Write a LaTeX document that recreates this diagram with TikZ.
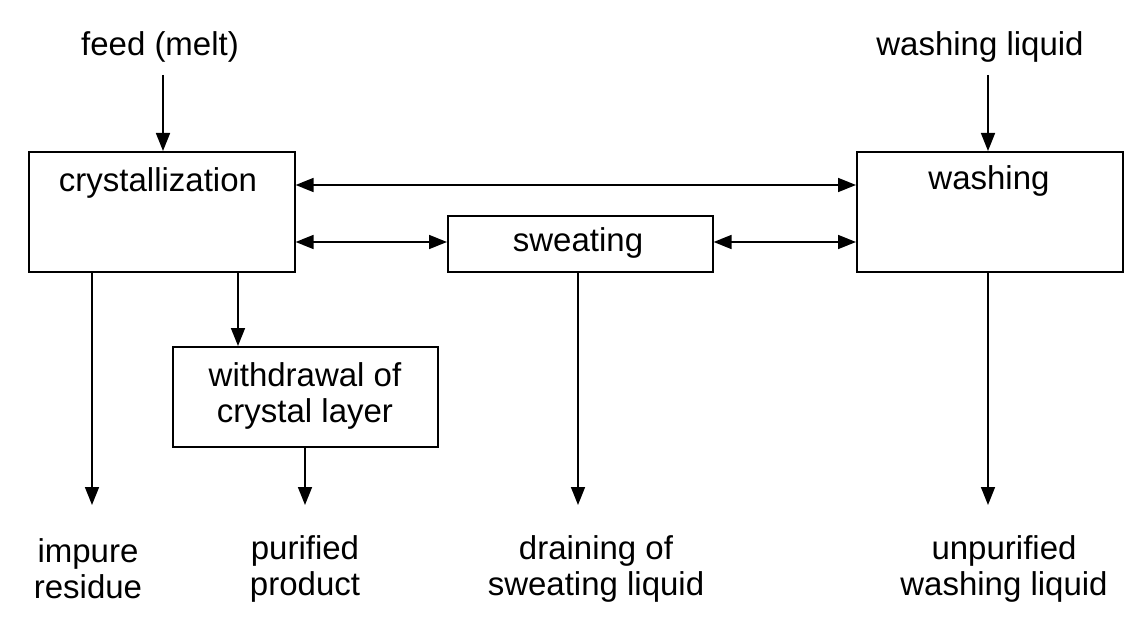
\documentclass[tikz,border=0pt]{standalone}
\usepackage{fontspec}
\setmainfont{Liberation Sans}
\usetikzlibrary{arrows.meta}
\begin{document}
\begin{tikzpicture}[x=1pt,y=-1pt,
  box/.style={draw,line width=1.6pt,inner sep=0pt,anchor=north west},
  lab/.style={font=\fontsize{33}{36}\selectfont,align=center,inner sep=0pt},
  arr/.style={line width=1.6pt,-{Triangle[length=18pt,width=14pt]}},
  darr/.style={line width=1.6pt,{Triangle[length=18pt,width=14pt]}-{Triangle[length=18pt,width=14pt]}}]
\useasboundingbox (0,0) rectangle (1134,617);
\node[box,minimum width=266pt,minimum height=120pt] (cr) at (28,151) {};
\node[box,minimum width=265pt,minimum height=56pt] (sw) at (447,215) {};
\node[box,minimum width=266pt,minimum height=120pt] (wa) at (856,151) {};
\node[box,minimum width=265pt,minimum height=100pt] (wi) at (172,346) {};
\node[lab] (crt) at (158,183) {crystallization};
\node[lab] (swt) at (578,243) {sweating};
\node[lab] (wat) at (989,181) {washing};
\node[lab] (wit) at (305,396) {withdrawal of\\crystal layer};
\node[lab] (feed) at (160,47) {feed (melt)};
\node[lab] (wl) at (980,47) {washing liquid};
\node[lab] (ir) at (88,569) {impure\\residue};
\node[lab] (pp) at (305,569) {purified\\product};
\node[lab] (dr) at (596,569) {draining of\\sweating liquid};
\node[lab] (uw) at (1004,569) {unpurified\\washing liquid};
\coordinate (a1) at (163,75); \coordinate (a2) at (988,75);
\draw[arr] (a1) -- (a1 |- cr.north);
\draw[arr] (a2) -- (a2 |- wa.north);
\draw[darr] (cr.east |- 0,185) -- (wa.west |- 0,185);
\draw[darr] (cr.east |- 0,242) -- (sw.west |- 0,242);
\draw[darr] (sw.east |- 0,242) -- (wa.west |- 0,242);
\draw[arr] (cr.south -| 92,0) -- (92,505);
\draw[arr] (cr.south -| 238,0) -- (wi.north -| 238,0);
\draw[arr] (wi.south -| 305,0) -- (305,505);
\draw[arr] (sw.south -| 578,0) -- (578,505);
\draw[arr] (wa.south -| 988,0) -- (988,505);
\end{tikzpicture}
\end{document}
